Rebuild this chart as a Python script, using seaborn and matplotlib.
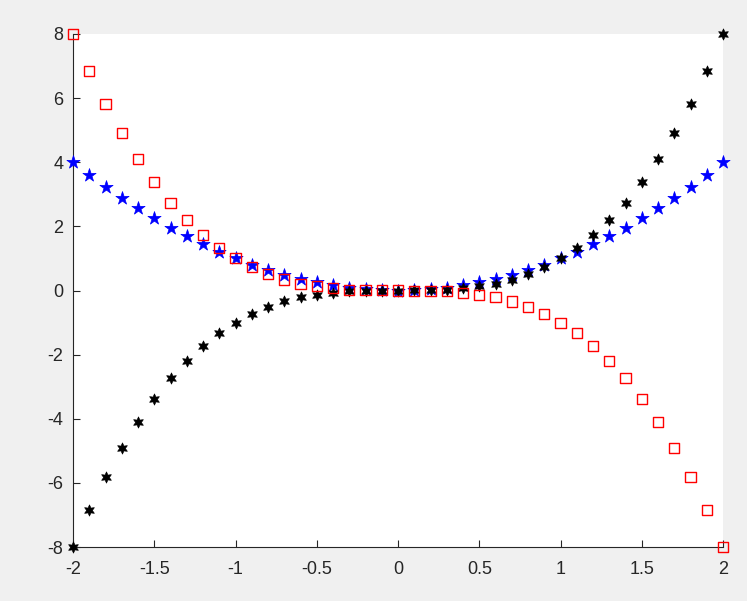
import seaborn as sns
import pandas as pd
import matplotlib
matplotlib.use('Agg')
import matplotlib.pyplot as plt

# values (x from -2 to 2)
x_values = [-2.0, -1.9, -1.8, -1.7, -1.6, -1.5, -1.4, -1.3, -1.2, -1.1, -1.0,
            -0.9, -0.8, -0.7, -0.6, -0.5, -0.4, -0.3, -0.2, -0.1, 0.0,
            0.1, 0.2, 0.3, 0.4, 0.5, 0.6, 0.7, 0.8, 0.9, 1.0,
            1.1, 1.2, 1.3, 1.4, 1.5, 1.6, 1.7, 1.8, 1.9, 2.0]
blue_stars = [4.0, 3.61, 3.24, 2.89, 2.56, 2.25, 1.96, 1.69, 1.44, 1.21, 1.0,
              0.81, 0.64, 0.49, 0.36, 0.25, 0.16, 0.09, 0.04, 0.01, 0.0,
              0.01, 0.04, 0.09, 0.16, 0.25, 0.36, 0.49, 0.64, 0.81, 1.0,
              1.21, 1.44, 1.69, 1.96, 2.25, 2.56, 2.89, 3.24, 3.61, 4.0]
black_hexagrams = [-8.0, -6.859, -5.832, -4.913, -4.096, -3.375, -2.744, -2.197, -1.728, -1.331, -1.0,
                   -0.729, -0.512, -0.343, -0.216, -0.125, -0.064, -0.027, -0.008, -0.001, 0.0,
                   0.001, 0.008, 0.027, 0.064, 0.125, 0.216, 0.343, 0.512, 0.729, 1.0,
                   1.331, 1.728, 2.197, 2.744, 3.375, 4.096, 4.913, 5.832, 6.859, 8.0]
red_squares = [8.0, 6.859, 5.832, 4.913, 4.096, 3.375, 2.744, 2.197, 1.728, 1.331, 1.0,
               0.729, 0.512, 0.343, 0.216, 0.125, 0.064, 0.027, 0.008, 0.001, 0.0,
               -0.001, -0.008, -0.027, -0.064, -0.125, -0.216, -0.343, -0.512, -0.729, -1.0,
               -1.331, -1.728, -2.197, -2.744, -3.375, -4.096, -4.913, -5.832, -6.859, -8.0]
x_ticks = [-2, -1.5, -1, -0.5, 0, 0.5, 1, 1.5, 2]
x_tick_labels = ['-2', '-1.5', '-1', '-0.5', '0', '0.5', '1', '1.5', '2']
y_ticks = [-8, -6, -4, -2, 0, 2, 4, 6, 8]
y_tick_labels = ['-8', '-6', '-4', '-2', '0', '2', '4', '6', '8']

df = pd.DataFrame({'x': x_values, 'sq': blue_stars, 'cube': black_hexagrams, 'neg_cube': red_squares})

sns.set_style("white")
plt.rcParams['font.family'] = ['Liberation Sans', 'DejaVu Sans']

fig = plt.figure(figsize=(7.47, 6.01), dpi=100, facecolor='#f0f0f0')
ax = fig.add_axes([73 / 747, 54 / 601, 650 / 747, 513 / 601])
ax.set_facecolor('white')

sns.scatterplot(data=df, x='x', y='sq', ax=ax, marker='*', s=100, color='#0000ff',
                edgecolor='#0000ff', linewidth=0.5, clip_on=False, zorder=3)
sns.scatterplot(data=df, x='x', y='cube', ax=ax, marker=(6, 1, 0), s=65, color='black',
                edgecolor='black', linewidth=0.5, clip_on=False, zorder=4)
sns.scatterplot(data=df, x='x', y='neg_cube', ax=ax, marker='s', s=52, facecolor='none',
                edgecolor='#ff0000', linewidth=1.0, clip_on=False, zorder=5)

ax.set_xlim(-2, 2)
ax.set_ylim(-8, 8)
ax.set_xticks(x_ticks)
ax.set_xticklabels(x_tick_labels)
ax.set_yticks(y_ticks)
ax.set_yticklabels(y_tick_labels)
ax.set_xlabel('')
ax.set_ylabel('')
for side in ['top', 'right']:
    ax.spines[side].set_visible(False)
for side in ['left', 'bottom']:
    ax.spines[side].set_color('#262626')
    ax.spines[side].set_linewidth(0.8)
ax.tick_params(direction='in', length=5, width=0.8, color='#262626', labelcolor='#262626',
               labelsize=13, left=True, bottom=True)
ax.tick_params(axis='x', pad=10)
ax.tick_params(axis='y', pad=7)

fig.savefig('out.png', dpi=100, facecolor=fig.get_facecolor())
